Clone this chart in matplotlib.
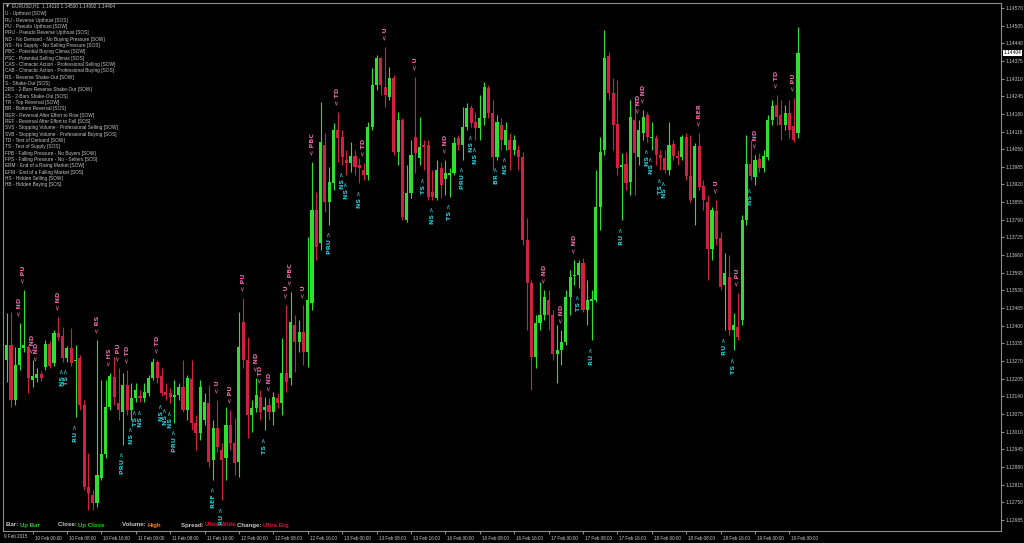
# %% Imports

import numpy as np
import pandas as pd
import matplotlib
matplotlib.use("Agg")
import matplotlib.pyplot as plt
import matplotlib.transforms as mtransforms

plt.rcParams['font.family'] = ['Liberation Sans', 'DejaVu Sans']

# %% Data - EURUSD H1, prices in points (1e-5)

times = pd.date_range("2015-02-09 18:00", "2015-02-19 10:00", freq="h")
times = times[times.dayofweek < 5]  # no weekend bars

opens = [113274, 113329, 113126, 113256, 113318, 113321, 113200, 113208, 113222, 113248,
         113332, 113263, 113373, 113362, 113281, 113318, 113270, 113281, 113108, 112806,
         112777, 112747, 112839, 112927, 113100, 113211, 113115, 113082, 113182, 113089,
         113134, 113141, 113134, 113152, 113208, 113267, 113215, 113156, 113152, 113137,
         113145, 113174, 113089, 113204, 113042, 113005, 113053, 113115, 112905, 113023,
         112942, 112912, 113034, 112968, 112898, 113414, 113274, 113071, 113097, 113137,
         113089, 113108, 113082, 113134, 113115, 113226, 113208, 113403, 113340, 113377,
         113303, 113483, 113826, 113704, 114066, 113855, 113925, 114120, 114095, 114010,
         113999, 114025, 113992, 113973, 113955, 114131, 114286, 114385, 114279, 114242,
         114312, 114040, 114157, 113789, 113888, 114095, 114018, 114066, 114066, 113892,
         113870, 113981, 113940, 113955, 113962, 114091, 114066, 114131, 114201, 114150,
         114128, 114165, 114275, 114183, 114021, 114139, 114066, 114084, 114047, 114047,
         114021, 113715, 113557, 113285, 113410, 113440, 113494, 113440, 113296, 113310,
         113340, 113505, 113583, 113587, 113631, 113458, 113491, 113494, 113837, 114047,
         114393, 114257, 114143, 113984, 113995, 113929, 114157, 114021, 114109, 114176,
         114091, 114091, 114029, 114018, 113973, 114069, 114025, 114021, 114095, 113951,
         113870, 114062, 113914, 113855, 113682, 113822, 113723, 113550, 113579, 113384,
         113395, 113421, 113789, 113995, 113947, 114014, 113981, 114021, 114157, 114212,
         114176, 114139, 114183, 114135, 114110]
highs = [113447, 113451, 113321, 113410, 113531, 113329, 113274, 113245, 113233, 113347,
         113343, 113384, 113432, 113395, 113325, 113391, 113329, 113292, 113126, 112931,
         112795, 113347, 113200, 113200, 113226, 113285, 113245, 113226, 113237, 113189,
         113189, 113163, 113189, 113219, 113281, 113274, 113245, 113189, 113171, 113200,
         113189, 113274, 113219, 113274, 113071, 113200, 113152, 113182, 113053, 113126,
         112968, 113100, 113089, 113060, 113451, 113502, 113358, 113126, 113208, 113163,
         113137, 113134, 113156, 113152, 113354, 113476, 113524, 113440, 113421, 113476,
         113726, 114003, 113892, 114224, 114109, 113984, 114146, 114187, 114120, 114047,
         114077, 114047, 114018, 113999, 114150, 114349, 114397, 114389, 114426, 114352,
         114323, 114187, 114165, 113992, 114084, 114315, 114168, 114084, 114084, 113973,
         114010, 114003, 114010, 113981, 114095, 114102, 114205, 114220, 114212, 114187,
         114249, 114297, 114286, 114231, 114176, 114165, 114150, 114109, 114102, 114066,
         114040, 113796, 113568, 113440, 113561, 113531, 113531, 113458, 113403, 113384,
         113531, 113605, 113642, 113642, 113649, 113568, 113531, 113973, 114095, 114489,
         114408, 114312, 114304, 114036, 114040, 114231, 114242, 114157, 114194, 114187,
         114150, 114102, 114047, 114047, 114150, 114084, 114047, 114102, 114109, 114102,
         114073, 114109, 113936, 113881, 113837, 113863, 113745, 113668, 113660, 113447,
         113520, 113808, 114102, 114084, 114029, 114036, 114047, 114176, 114231, 114249,
         114231, 114212, 114231, 114238, 114500]
lows = [113193, 113100, 113108, 113237, 113303, 113152, 113174, 113193, 113196, 113237,
        113245, 113252, 113347, 113267, 113267, 113252, 113063, 113089, 112795, 112721,
        112721, 112732, 112832, 112912, 113089, 113108, 113053, 112961, 113071, 113053,
        113119, 113119, 113119, 113141, 113200, 113189, 113141, 113126, 113115, 113042,
        113126, 113082, 113053, 113016, 112942, 112979, 113034, 112880, 112832, 112935,
        112758, 112832, 112942, 112850, 112843, 113245, 112986, 113008, 113082, 113053,
        113016, 113053, 113034, 113097, 113071, 113156, 113182, 113230, 113303, 113256,
        113248, 113458, 113642, 113679, 113819, 113771, 113899, 114003, 113992, 113955,
        113966, 113955, 113925, 113936, 113936, 114120, 114268, 114249, 114205, 114231,
        114029, 113992, 113789, 113782, 113870, 113962, 113992, 113973, 113863, 113863,
        113863, 113870, 113881, 113874, 113955, 114047, 114010, 114120, 114131, 114084,
        114084, 114139, 114165, 113973, 114010, 114047, 114047, 113973, 114029, 113973,
        113697, 113384, 113163, 113245, 113384, 113421, 113384, 113274, 113189, 113256,
        113329, 113440, 113550, 113539, 113451, 113403, 113347, 113487, 113752, 114029,
        114231, 114047, 113955, 113789, 113899, 113881, 113881, 113992, 114084, 114077,
        114047, 113992, 113973, 113962, 113955, 114010, 113992, 114010, 113936, 113855,
        113771, 113899, 113826, 113568, 113642, 113697, 113531, 113384, 113366, 113310,
        113347, 113403, 113771, 113936, 113918, 113966, 113966, 114010, 114139, 114139,
        114084, 114120, 114091, 114077, 114092]
closes = [113329, 113126, 113256, 113318, 113329, 113208, 113215, 113222, 113208, 113332,
          113252, 113373, 113358, 113281, 113318, 113263, 113274, 113108, 112806, 112784,
          112747, 112850, 112927, 113100, 113215, 113137, 113089, 113182, 113089, 113134,
          113163, 113134, 113156, 113208, 113267, 113208, 113152, 113145, 113137, 113145,
          113174, 113089, 113208, 113042, 113005, 113174, 113119, 112898, 113023, 112953,
          112905, 113034, 112968, 112894, 113321, 113274, 113071, 113097, 113145, 113082,
          113100, 113082, 113137, 113115, 113226, 113193, 113414, 113340, 113377, 113303,
          113494, 113826, 113690, 114077, 113855, 113929, 114120, 114091, 114021, 113999,
          114025, 113984, 113981, 113955, 114131, 114286, 114385, 114286, 114249, 114312,
          114040, 114157, 113800, 113888, 114029, 114036, 114058, 114058, 113874, 113874,
          113973, 113918, 113962, 113962, 114073, 114066, 114131, 114201, 114146, 114128,
          114165, 114279, 114183, 114021, 114150, 114084, 114120, 114047, 114084, 114021,
          113715, 113557, 113285, 113410, 113440, 113505, 113440, 113296, 113310, 113340,
          113505, 113579, 113587, 113631, 113458, 113494, 113498, 113837, 114040, 114385,
          114257, 114139, 113981, 113992, 113925, 114168, 114036, 114120, 114168, 114095,
          114095, 114029, 114018, 113973, 114066, 114025, 114018, 114095, 113951, 113863,
          114062, 113910, 113863, 113682, 113826, 113719, 113542, 113594, 113384, 113403,
          113358, 113789, 113995, 113951, 114010, 113981, 114025, 114157, 114209, 114168,
          114139, 114183, 114120, 114084, 114404]

# signal labels: bar index and code
sow_bars = [3, 4, 6, 7, 12, 21, 24, 26, 28, 35, 49, 52, 55, 58, 59, 61, 65, 66, 69, 71,
            77, 83, 88, 95, 102, 125, 129, 132, 147, 148, 161, 165, 170, 174, 179, 183]
sow_text = ["ND", "PU", "ND", "ND", "ND", "RS", "HS", "PU", "TD", "TD", "U", "PU", "PU", "ND",
            "TD", "ND", "U", "PBC", "U", "PBC", "TD", "TD", "U", "U", "ND", "ND", "ND", "ND",
            "ND", "ND", "RER", "U", "PU", "ND", "TD", "PU"]
sos_bars = [13, 14, 16, 27, 29, 30, 31, 36, 37, 38, 39, 48, 50, 60, 75, 78, 79, 82, 97, 99,
            103, 106, 108, 109, 114, 116, 133, 136, 143, 149, 150, 152, 153, 167, 169, 173]
sos_text = ["NS", "TS", "RU", "PRU", "NS", "TS", "NS", "NS", "NS", "NS", "PRU", "REF", "RU",
            "TS", "PRU", "NS", "NS", "NS", "TS", "NS", "TS", "PRU", "NS", "NS", "BR", "NS",
            "TS", "RU", "RU", "NS", "NS", "TS", "NS", "RU", "TS", "NS"]

legend_lines = [
    "U - Upthrust [SOW]",
    "RU - Reverse Upthrust [SOS]",
    "PU - Pseudo Upthrust [SOW]",
    "PRU - Pseudo Reverse Upthrust [SOS]",
    "ND - No Demand - No Buying Pressure [SOW]",
    "NS - No Supply - No Selling Pressure [SOS]",
    "PBC - Potential Buying Climax [SOW]",
    "PSC - Potential Selling Climax [SOS]",
    "CAS - Climactic Action - Professional Selling [SOW]",
    "CAB - Climactic Action - Professional Buying [SOS]",
    "RS - Reverse Shake-Out [SOW]",
    "S - Shake-Out [SOS]",
    "2RS - 2-Bars Reverse Shake-Out [SOW]",
    "2S - 2-Bars Shake-Out [SOS]",
    "TR - Top Reversal [SOW]",
    "BR - Bottom Reversal [SOS]",
    "RER - Reversal After Effort to Rise [SOW]",
    "REF - Reversal After Effort to Fall [SOS]",
    "SVS - Stopping Volume - Professional Selling [SOW]",
    "SVB - Stopping Volume - Professional Buying [SOS]",
    "TD - Test of Demand [SOW]",
    "TS - Test of Supply [SOS]",
    "FPB - Falling Pressure - No Buyers [SOW]",
    "FPS - Falling Pressure - No - Sellers [SOS]",
    "ERM - End of a Rising Market [SOW]",
    "EFM - End of a Falling Market [SOS]",
    "HS - Hidden Selling [SOW]",
    "HB - Hidden Buying [SOS]",
]

status = [("Bar: ", "Up Bar", "#22cc22"), ("Close: ", "Up Close", "#22cc22"),
          ("Volume: ", "High", "#ff7f00"), ("Spread: ", "Ultra Wide", "#dc143c"),
          ("Change: ", "Ultra Big", "#dc143c")]

# %% Figure

GREEN = "#2ee02e"
RED = "#d21f43"
PINK = "#e86aa8"
CYAN = "#2ac6d2"
FG = "#c8c8c8"
FRAME = "#8c8c8c"

o = np.array(opens) / 1e5
h = np.array(highs) / 1e5
l = np.array(lows) / 1e5
c = np.array(closes) / 1e5
idx = np.arange(len(o))

W, H = 1024, 543
fig = plt.figure(figsize=(W / 100, H / 100), dpi=100, facecolor="black")
ax = fig.add_axes([3 / W, 1 - 531 / H, 998 / W, 528 / H], facecolor="black")

col = np.where(c >= o, GREEN, RED)
ax.vlines(idx, l, h, colors=col, linewidth=0.8)
ax.bar(idx, np.maximum(np.abs(c - o), 0.00003), bottom=np.minimum(o, c),
       width=0.72, color=col, linewidth=0)

ax.set_xlim(-0.86, 231.2)
ax.set_ylim(1.126445, 1.14588)

for sp in ax.spines.values():
    sp.set_color(FRAME)
    sp.set_linewidth(0.8)

# signal labels (rotated, arrow pointing to the bar)
for i, t in zip(sow_bars, sow_text):
    ax.annotate("< " + t, (i, h[i]), xytext=(0, 5), textcoords="offset points",
                rotation=90, ha="center", va="bottom", fontsize=4.6,
                color=PINK, fontweight="bold", family="DejaVu Sans")
for i, t in zip(sos_bars, sos_text):
    ax.annotate(t + " >", (i, l[i]), xytext=(0, -5), textcoords="offset points",
                rotation=90, ha="center", va="top", fontsize=4.6,
                color=CYAN, fontweight="bold", family="DejaVu Sans")

# price scale on the right
yt = np.round(np.arange(1.12685, 1.145705, 0.00065), 5)
ax.yaxis.tick_right()
ax.set_yticks(yt)
ax.set_yticklabels([f"{v:.5f}" for v in yt])
ax.tick_params(axis="y", colors=FRAME, labelcolor=FG, labelsize=3.5, length=2, pad=1)

trans = mtransforms.blended_transform_factory(ax.transAxes, ax.transData)
ax.text(1.0025, c[-1], f"{c[-1]:.5f}", transform=trans, ha="left", va="center",
        fontsize=3.5, color="black",
        bbox=dict(facecolor="white", edgecolor="none", pad=0.6))

# time scale
tick_pos = [i for i, t in enumerate(times) if t.hour % 8 == 0]
tick_lab = [f"{times[i].day} {times[i]:%b %H:%M}" for i in tick_pos]
ax.set_xticks(tick_pos)
ax.set_xticklabels(tick_lab, ha="left")
ax.tick_params(axis="x", colors=FRAME, labelcolor=FG, labelsize=3.3, length=2, pad=1.5)
shift = mtransforms.ScaledTranslation(2 / 100, 0, fig.dpi_scale_trans)
for lab in ax.get_xticklabels():
    lab.set_transform(lab.get_transform() + shift)
fig.text(4 / W, 1 - 537 / H, "9 Feb 2015", color=FG, fontsize=3.3, va="center")

# header and legend text
fig.text(6 / W, 1 - 6 / H, "\u25bc", color=FG, fontsize=3, va="center",
         family="DejaVu Sans")
fig.text(12 / W, 1 - 6 / H,
         f"EURUSD,H1  {o[-1]:.5f} {h[-1]:.5f} {l[-1]:.5f} {c[-1]:.5f}",
         color=FG, fontsize=3.4, va="center")
for k, line in enumerate(legend_lines):
    fig.text(5 / W, 1 - (14 + 6.33 * k) / H, line, color=FG, fontsize=3.4, va="center")

# status line at the bottom
status_x = [6, 58, 122, 181, 237]
for x0, (name, val, vc) in zip(status_x, status):
    t = fig.text(x0 / W, 1 - 525 / H, name, color=FG, fontsize=4.4,
                 fontweight="bold", va="center")
    fig.canvas.draw()
    bb = t.get_window_extent()
    fig.text(bb.x1 / W, 1 - 525 / H, val, color=vc, fontsize=4.4,
             fontweight="bold", va="center")

fig.savefig("out.png", dpi=100, facecolor="black")
